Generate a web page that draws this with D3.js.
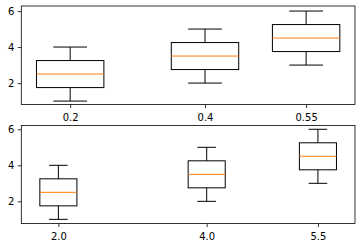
<!DOCTYPE html>
<html>
<head>
<meta charset="utf-8">
<script src="https://cdn.jsdelivr.net/npm/d3@7"></script>
<style>
  html, body { margin: 0; padding: 0; background: #fff; }
  svg { display: block; }
</style>
</head>
<body>
<script>
// ---- data ----
const topPositions = [0.2, 0.4, 0.55];
const topTickLabels = ["0.2", "0.4", "0.55"];
const bottomPositions = [2.0, 4.0, 5.5];
const bottomTickLabels = ["2.0", "4.0", "5.5"];
const whiskerLow = [1, 2, 3];
const q1 = [1.75, 2.75, 3.75];
const medians = [2.5, 3.5, 4.5];
const q3 = [3.25, 4.25, 5.25];
const whiskerHigh = [4, 5, 6];
const yTicks = [2, 4, 6];

const W = 362, H = 248;
const svg = d3.select("body").append("svg").attr("width", W).attr("height", H);

const FONT = "DejaVu Sans, sans-serif";

function panel(cfg) {
  const x = d3.scaleLinear().domain(cfg.xDomain).range([cfg.left, cfg.right]);
  const y = d3.scaleLinear().domain(cfg.yDomain).range([cfg.bottom, cfg.top]);
  const g = svg.append("g");

  // boxes
  const data = cfg.positions.map((p, i) => ({
    p, lo: whiskerLow[i], q1: q1[i], med: medians[i], q3: q3[i], hi: whiskerHigh[i]
  }));
  const bw = cfg.boxWidth;
  const bg = g.selectAll("g.box").data(data).join("g").attr("class", "box");
  // whiskers
  bg.append("line").attr("x1", d => x(d.p)).attr("x2", d => x(d.p))
    .attr("y1", d => y(d.lo)).attr("y2", d => y(d.q1))
    .attr("stroke", "#000").attr("stroke-width", 1);
  bg.append("line").attr("x1", d => x(d.p)).attr("x2", d => x(d.p))
    .attr("y1", d => y(d.q3)).attr("y2", d => y(d.hi))
    .attr("stroke", "#000").attr("stroke-width", 1);
  // caps
  bg.append("line").attr("x1", d => x(d.p - bw / 4)).attr("x2", d => x(d.p + bw / 4))
    .attr("y1", d => y(d.lo)).attr("y2", d => y(d.lo))
    .attr("stroke", "#000").attr("stroke-width", 1);
  bg.append("line").attr("x1", d => x(d.p - bw / 4)).attr("x2", d => x(d.p + bw / 4))
    .attr("y1", d => y(d.hi)).attr("y2", d => y(d.hi))
    .attr("stroke", "#000").attr("stroke-width", 1);
  // box
  bg.append("rect").attr("x", d => x(d.p - bw / 2)).attr("width", d => x(d.p + bw / 2) - x(d.p - bw / 2))
    .attr("y", d => y(d.q3)).attr("height", d => y(d.q1) - y(d.q3))
    .attr("fill", "none").attr("stroke", "#000").attr("stroke-width", 1);
  // median
  bg.append("line").attr("x1", d => x(d.p - bw / 2)).attr("x2", d => x(d.p + bw / 2))
    .attr("y1", d => y(d.med)).attr("y2", d => y(d.med))
    .attr("stroke", "#ff7f0e").attr("stroke-width", 1);

  // axes
  const ax = g.append("g").attr("transform", `translate(0,${cfg.bottom})`)
    .call(d3.axisBottom(x).tickValues(cfg.positions)
      .tickFormat((d, i) => cfg.tickLabels[i]).tickSize(3.5).tickPadding(5.5).tickSizeOuter(0));
  const ay = g.append("g").attr("transform", `translate(${cfg.left},0)`)
    .call(d3.axisLeft(y).tickValues(yTicks).tickFormat(d3.format("d"))
      .tickSize(3.5).tickPadding(3.5).tickSizeOuter(0));
  [ax, ay].forEach(a => {
    a.select(".domain").remove();
    a.selectAll("line").attr("stroke", "#000").attr("stroke-width", 0.8);
    a.selectAll("text").attr("font-family", FONT).attr("font-size", 10).attr("fill", "#000");
  });

  // spines
  g.append("rect").attr("x", cfg.left).attr("y", cfg.top)
    .attr("width", cfg.right - cfg.left).attr("height", cfg.bottom - cfg.top)
    .attr("fill", "none").attr("stroke", "#000").attr("stroke-width", 0.8);
}

panel({
  positions: topPositions, tickLabels: topTickLabels, boxWidth: 0.1,
  xDomain: [0.1275, 0.6225], yDomain: [0.81, 6.28],
  left: 21.3, right: 355, top: 6, bottom: 104.5
});
panel({
  positions: bottomPositions, tickLabels: bottomTickLabels, boxWidth: 0.5,
  xDomain: [1.5, 6.0], yDomain: [0.77, 6.21],
  left: 21.3, right: 355, top: 125.5, bottom: 223.5
});
</script>
</body>
</html>
